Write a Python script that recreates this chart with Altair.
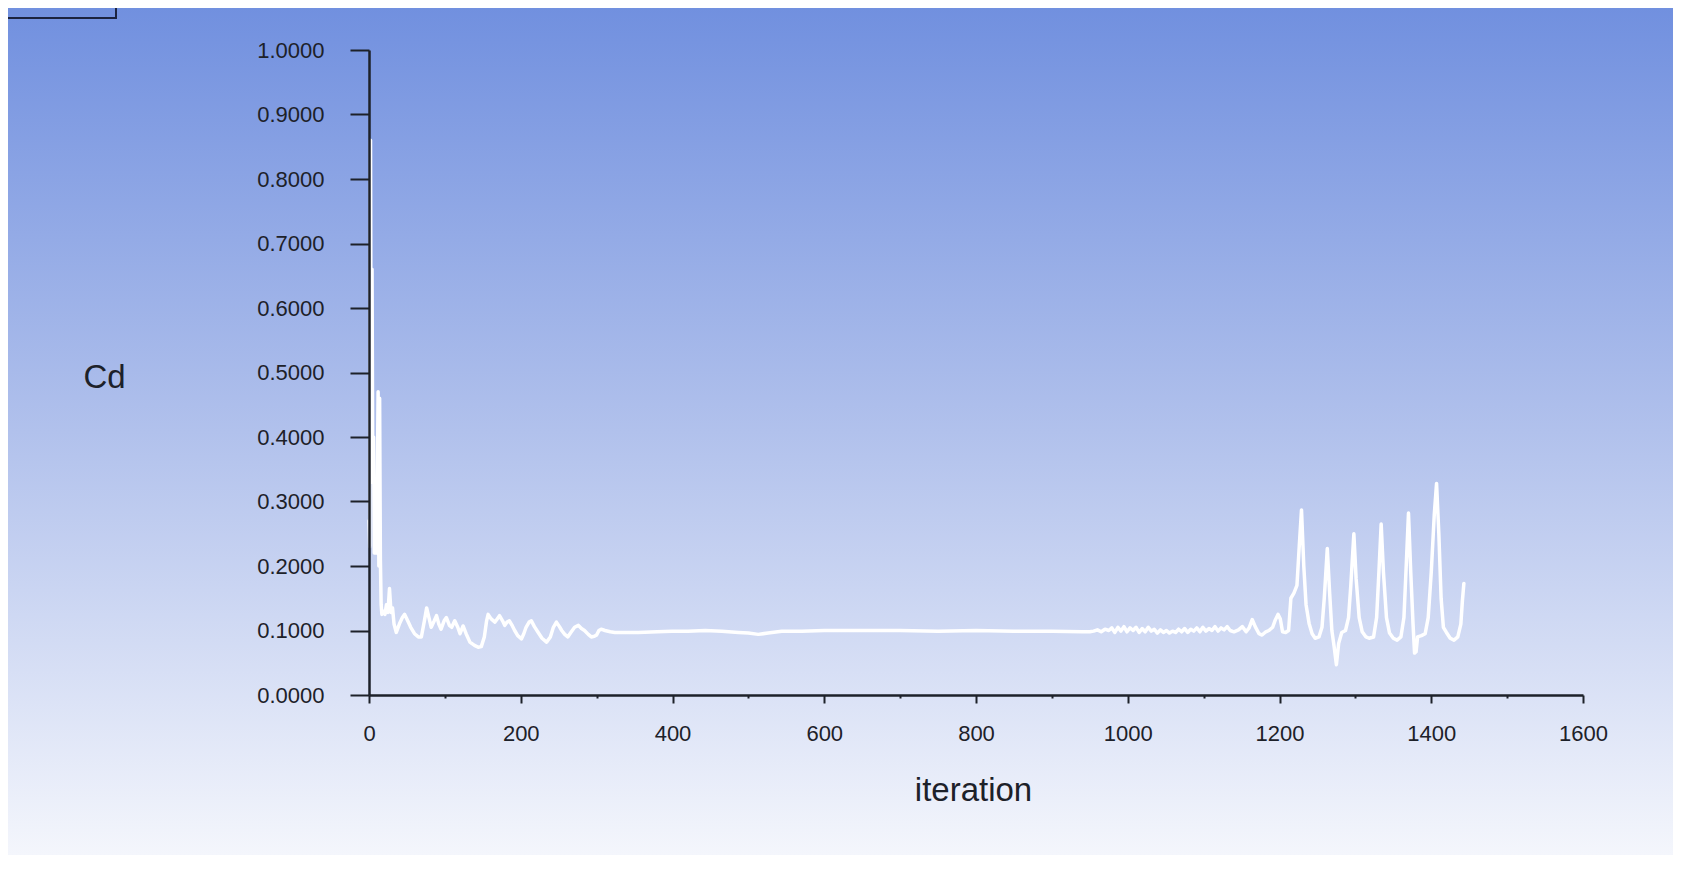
import altair as alt
import pandas as pd

ITER = [0, 1, 2, 3, 4, 5, 6, 7, 8, 9, 10, 11, 12, 13, 14, 15, 16, 17, 19, 21, 23, 25, 27, 29, 31, 33, 36,
        40, 44, 47, 51, 55, 60, 65, 69, 73, 76, 79, 82, 86, 89, 92, 95, 99, 102, 106, 109, 113, 117, 120, 124,
        128, 133, 139, 144, 148, 152, 155, 157, 161, 166, 169, 172, 176, 179, 182, 185, 189, 192, 196, 201,
        204, 207, 211, 214, 218, 223, 228, 234, 239, 243, 247, 251, 254, 258, 262, 266, 271, 276, 280, 284,
        289, 293, 297, 300, 303, 306, 311, 318, 324, 340, 355, 380, 399, 420, 443, 465, 487, 500, 513, 526,
        544, 570, 600, 650, 700, 750, 800, 850, 900, 940, 950,
        955, 960, 965, 970, 975, 979, 983, 987, 991, 995, 999, 1003, 1007, 1011, 1015, 1019, 1023, 1027,
        1031, 1035, 1039, 1043, 1047, 1051, 1055, 1059, 1063, 1067, 1071, 1075, 1079, 1083, 1087, 1091,
        1095, 1099, 1103, 1107, 1111, 1115, 1119, 1123, 1127, 1131, 1135, 1140, 1146, 1151, 1156, 1160,
        1164, 1168, 1173, 1177, 1182, 1186, 1191, 1194, 1198, 1201, 1204, 1208, 1212, 1215, 1219, 1223,
        1226, 1229, 1232, 1235, 1239, 1243, 1247, 1252, 1256, 1259, 1263, 1266, 1269, 1272, 1275, 1278,
        1282, 1287, 1291, 1294, 1298, 1301, 1305, 1309, 1314, 1318, 1324, 1328, 1331, 1334, 1337, 1341,
        1345, 1350, 1355, 1360, 1364, 1367, 1370, 1373, 1376, 1378, 1380, 1382, 1387, 1392, 1396, 1400,
        1404, 1407, 1410, 1413, 1416, 1420, 1425, 1430, 1435, 1439, 1441, 1443]

CD = [0.27, 0.23, 0.86, 0.35, 0.66, 0.33, 0.40, 0.22, 0.30, 0.22, 0.26, 0.34, 0.47, 0.20, 0.46, 0.21, 0.14,
      0.125, 0.13, 0.125, 0.14, 0.128, 0.165, 0.128, 0.135, 0.11, 0.097,
      0.11, 0.12, 0.125, 0.115, 0.105, 0.095, 0.09, 0.09, 0.115, 0.135, 0.12, 0.105, 0.115, 0.123, 0.11,
      0.102, 0.115, 0.12, 0.108, 0.105, 0.115, 0.105, 0.095, 0.107,
      0.095, 0.082, 0.077, 0.074, 0.075, 0.09, 0.115, 0.125, 0.118, 0.113, 0.118, 0.123, 0.115, 0.108,
      0.113, 0.115, 0.107, 0.1, 0.092, 0.087,
      0.095, 0.105, 0.113, 0.115, 0.106, 0.097, 0.088, 0.082, 0.09, 0.105, 0.113, 0.106, 0.1, 0.094, 0.09,
      0.097, 0.105, 0.108, 0.103, 0.1,
      0.094, 0.09, 0.091, 0.093, 0.1, 0.102, 0.1, 0.098, 0.097, 0.097, 0.097, 0.098, 0.099, 0.099, 0.1,
      0.099, 0.097, 0.096, 0.094, 0.096,
      0.099, 0.099, 0.1, 0.1, 0.1, 0.099, 0.1, 0.099, 0.099, 0.098, 0.098,
      0.099, 0.101, 0.098, 0.102, 0.1, 0.104, 0.097, 0.105, 0.099, 0.106, 0.098, 0.104, 0.1, 0.105,
      0.097, 0.103, 0.098, 0.105,
      0.099, 0.102, 0.096, 0.101, 0.097, 0.1, 0.096, 0.099, 0.097, 0.102, 0.098, 0.103, 0.097, 0.102,
      0.099, 0.104,
      0.098, 0.105, 0.099, 0.103, 0.1, 0.106, 0.099, 0.104, 0.101, 0.106, 0.1, 0.098, 0.101, 0.106, 0.098,
      0.104,
      0.117, 0.106, 0.095, 0.093, 0.098, 0.1, 0.105, 0.115, 0.125, 0.118, 0.098, 0.097, 0.1, 0.15, 0.158,
      0.17,
      0.23, 0.287, 0.2, 0.14, 0.111, 0.095, 0.088, 0.09, 0.105, 0.15, 0.227, 0.16, 0.1, 0.075, 0.047, 0.08,
      0.097, 0.1, 0.12, 0.17, 0.25, 0.18, 0.12, 0.098, 0.09, 0.088, 0.09, 0.12, 0.19, 0.265, 0.19, 0.12,
      0.096, 0.088, 0.085, 0.09, 0.12, 0.2, 0.282, 0.19, 0.11, 0.065, 0.067, 0.09, 0.092, 0.095, 0.12, 0.19,
      0.28, 0.328, 0.25, 0.15, 0.105, 0.097, 0.088, 0.085, 0.09, 0.11, 0.145, 0.173]

Y_TICKS = [0.0, 0.1, 0.2, 0.3, 0.4, 0.5, 0.6, 0.7, 0.8, 0.9, 1.0]
X_TICKS = [0, 100, 200, 300, 400, 500, 600, 700, 800, 900, 1000, 1100, 1200, 1300, 1400, 1500, 1600]

df = pd.DataFrame({"iteration": ITER, "Cd": CD})

W, H = 1214, 645
PAD = {"left": 361, "top": 42, "right": 90, "bottom": 160}

FONT = "Liberation Sans"
INK = "#1d2129"

one = alt.Data(values=[{"k": 0}])

bg = alt.Chart(one).mark_rect(
    fill=alt.Gradient(
        gradient="linear", x1=0, y1=0, x2=0, y2=1,
        stops=[alt.GradientStop(offset=0, color="#7190DF"),
               alt.GradientStop(offset=0.5, color="#B1C1EC"),
               alt.GradientStop(offset=1, color="#F4F6FC")],
    ),
    strokeWidth=0,
).encode(
    x=alt.value(-PAD["left"]), x2=alt.value(W + PAD["right"]),
    y=alt.value(-PAD["top"]), y2=alt.value(H + PAD["bottom"]),
)

box = alt.Chart(one).mark_rect(
    filled=False, stroke="#1b2340", strokeWidth=2
).encode(
    x=alt.value(-390), x2=alt.value(-253),
    y=alt.value(-80), y2=alt.value(-32),
)

line = alt.Chart(df).mark_line(
    color="#ffffff", strokeWidth=3.5, strokeJoin="round", strokeCap="round"
).encode(
    x=alt.X(
        "iteration:Q",
        scale=alt.Scale(domain=[0, 1600], nice=False),
        axis=alt.Axis(
            values=X_TICKS, format="d",
            labelExpr="datum.value % 200 === 0 ? datum.label : ''",
            tickSize={"condition": {"test": "datum.value % 200 === 0", "value": 8}, "value": 3},
            tickWidth=2, tickColor=INK, domainColor=INK, domainWidth=2.5,
            labelFont=FONT, labelFontSize=22, labelColor=INK, labelPadding=20,
            labelFlush=False, labelOverlap=False, labelBound=False,
            grid=False, zindex=1,
            title="iteration", titleFont=FONT, titleFontSize=33, titleFontWeight="normal",
            titleColor=INK, titleX=604, titleY=105, titleAlign="center",
            titleBaseline="alphabetic",
        ),
    ),
    y=alt.Y(
        "Cd:Q",
        scale=alt.Scale(domain=[0, 1], nice=False),
        axis=alt.Axis(
            values=Y_TICKS, format=".4f",
            tickSize=19, tickWidth=2, tickColor=INK, domainColor=INK, domainWidth=2.5,
            labelFont=FONT, labelFontSize=22, labelColor=INK, labelPadding=26,
            labelFlush=False, labelOverlap=False, labelBound=False,
            grid=False, zindex=1,
            title="Cd", titleFont=FONT, titleFontSize=33, titleFontWeight="normal",
            titleColor=INK, titleAngle=0, titleX=-265, titleY=337, titleAlign="center",
            titleBaseline="alphabetic",
        ),
    ),
)

chart = alt.layer(bg, box, line).properties(
    width=W, height=H,
    autosize=alt.AutoSizeParams(type="none"),
    padding=PAD,
    background="#F4F6FC",
).configure_view(strokeWidth=0)

chart.save("out.html", embed_options={"renderer": "svg", "actions": False})
